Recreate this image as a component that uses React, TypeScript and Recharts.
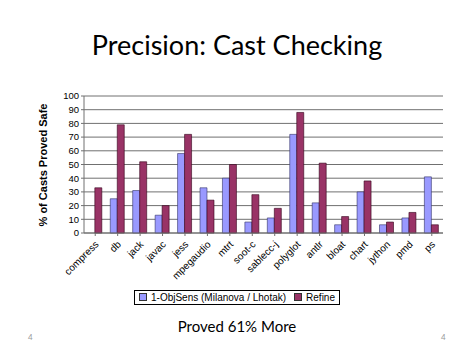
import { BarChart, Bar, XAxis, YAxis, CartesianGrid } from "recharts";

const benchmarks = [
  "compress", "db", "jack", "javac", "jess", "mpegaudio", "mtrt", "soot-c",
  "sablecc-j", "polyglot", "antlr", "bloat", "chart", "jython", "pmd", "ps",
];
const objSens = [0, 25, 31, 13, 58, 33, 40, 8, 11, 72, 22, 6, 30, 6, 11, 41];
const refine = [33, 79, 52, 20, 72, 24, 50, 28, 18, 88, 51, 12, 38, 8, 15, 6];
const yTicks = [0, 10, 20, 30, 40, 50, 60, 70, 80, 90, 100];

const data = benchmarks.map((name, i) => ({ name, objSens: objSens[i], refine: refine[i] }));

const BLUE = "#9999FF";
const RED = "#993366";
const FONT = "Liberation Sans, Arial, sans-serif";

// rotated category labels, Excel style
const SlantTick = ({ x, y, payload }: any) => (
  <text
    x={x + 4}
    y={y + 7}
    transform={`rotate(-45 ${x + 4} ${y + 7})`}
    textAnchor="end"
    fontSize={10}
    fontFamily={FONT}
    fill="#000"
  >
    {payload.value}
  </text>
);

const ChartLegend = () => (
  <div style={{ position: "absolute", top: 287, left: 0, width: 474, textAlign: "center" }}>
    <div
      style={{
        border: "1px solid #000",
        display: "inline-flex",
        alignItems: "center",
        padding: "1px 4px",
        fontSize: 10,
        fontFamily: FONT,
        background: "#fff",
        gap: 4,
      }}
    >
      <span style={{ width: 6, height: 6, background: BLUE, border: "1px solid #333", display: "inline-block" }} />
      <span>1-ObjSens (Milanova / Lhotak)</span>
      <span style={{ width: 6, height: 6, background: RED, border: "1px solid #333", display: "inline-block", marginLeft: 4 }} />
      <span>Refine</span>
    </div>
  </div>
);

export default function App() {
  return (
    <div style={{ position: "absolute", left: 0, top: 0, width: 474, height: 355, background: "#fff" }}>
      <div
        style={{
          position: "absolute",
          top: 28,
          width: 474,
          textAlign: "center",
          fontFamily: "Lato, 'Open Sans', sans-serif",
          fontSize: 27,
          color: "#000",
        }}
      >
        Precision: Cast Checking
      </div>
      <BarChart
        width={474}
        height={355}
        data={data}
        margin={{ top: 96, right: 31, left: 54, bottom: 62 }}
        barCategoryGap="17%"
        barGap={0}
      >
        <CartesianGrid vertical={false} stroke="#707070" strokeWidth={1} />
        <XAxis
          dataKey="name"
          interval={0}
          tick={<SlantTick />}
          height={60}
          stroke="#707070"
          tickSize={3}
        />
        <YAxis
          domain={[0, 100]}
          ticks={yTicks}
          interval={0}
          width={30}
          stroke="#707070"
          tickSize={3}
          tick={{ fontSize: 9.5, fill: "#000", fontFamily: FONT }}
          label={() => (
            <text
              x={47}
              y={165}
              transform="rotate(-90 47 165)"
              textAnchor="middle"
              fontSize={11}
              fontWeight="bold"
              fontFamily={FONT}
              fill="#000"
            >
              % of Casts Proved Safe
            </text>
          )}
        />
        <Bar dataKey="objSens" name="1-ObjSens (Milanova / Lhotak)" fill={BLUE} stroke="#333366" strokeWidth={0.6} isAnimationActive={false} />
        <Bar dataKey="refine" name="Refine" fill={RED} stroke="#330019" strokeWidth={0.6} isAnimationActive={false} />
      </BarChart>
      <ChartLegend />
      <div
        style={{
          position: "absolute",
          top: 317,
          width: 474,
          textAlign: "center",
          fontFamily: "Lato, 'Open Sans', sans-serif",
          fontSize: 15,
          color: "#000",
        }}
      >
        Proved 61% More
      </div>
      <div style={{ position: "absolute", left: 28, top: 332, fontSize: 8, color: "#999", fontFamily: "Lato, sans-serif" }}>4</div>
      <div style={{ position: "absolute", left: 441, top: 332, fontSize: 8, color: "#999", fontFamily: "Lato, sans-serif" }}>4</div>
    </div>
  );
}
